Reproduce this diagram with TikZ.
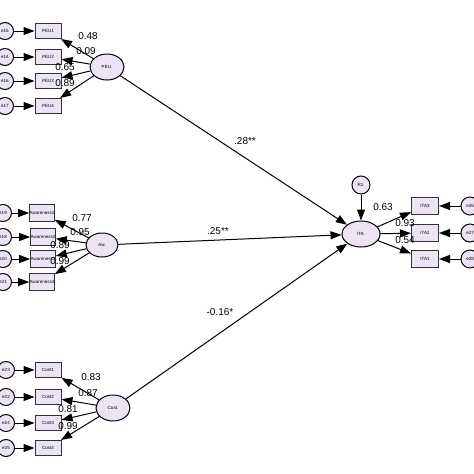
\documentclass[tikz,border=0pt]{standalone}
\usepackage{fontspec}
\setmainfont{Liberation Sans}
\usetikzlibrary{arrows.meta,positioning,calc,shapes.geometric}
\definecolor{lav}{RGB}{236,228,244}
\tikzset{
  lat/.style={ellipse, draw=black, line width=1pt, fill=lav, minimum width=#1, minimum height=26pt,
              inner sep=0pt, font=\fontsize{4.5}{5}\selectfont},
  lat/.default={34pt},
  ind/.style={rectangle, draw=black!80, line width=1pt, fill=lav, minimum width=#1, minimum height=15pt,
              inner sep=0pt, font=\fontsize{4.5}{5}\selectfont},
  ind/.default={26pt},
  err/.style={circle, draw=black, line width=1pt, fill=lav, minimum size=17pt, inner sep=0pt,
              font=\fontsize{4.5}{5}\selectfont},
  arr/.style={-{Triangle[length=11pt,width=8pt]}, line width=1pt, black},
  est/.style={font=\fontsize{10}{12}\selectfont, inner sep=0pt},
}
\begin{document}
\begin{tikzpicture}[x=1pt, y=-1pt]
\useasboundingbox (0,0) rectangle (474,474);
\clip (0,0) rectangle (474,474);
% PEU
\node[lat] (peu) at (107,67) {PEU.};
\foreach \i/\y/\e/\v/\lx/\ly in {1/31/15/0.48/88/36, 2/57/14/0.09/86/51, 3/81/16/0.65/65/67, 4/106/17/0.89/65/83} {
  \node[ind] (peu\i) at (48,\y) {PEU\i};
  \node[err] (e\e) at (5,\y) {e\e};
  \draw[arr] (e\e) -- (peu\i);
  \draw[arr] (peu) -- (peu\i);
  \node[est] (lp\i) at (\lx,\ly) {\v};
}
% awareness
\node[lat=32pt, minimum height=24pt] (aw) at (102,245) {Aw.};
\foreach \i/\x/\y/\e/\v/\lx/\ly in {1/42/213/19/0.77/82/218, 2/43/237/18/0.95/80/232, 3/43/259/20/0.89/60/245, 4/42/282/21/0.99/60/261} {
  \node[ind=22pt, minimum height=17pt] (aw\i) at (\x,\y) {Awareness\i};
  \node[err] (e\e) at (3,\y) {e\e};
  \draw[arr] (e\e) -- (aw\i);
  \draw[arr] (aw) -- (aw\i);
  \node[est] (la\i) at (\lx,\ly) {\v};
}
% cost
\node[lat] (cost) at (113,408) {Cost.};
\foreach \i/\y/\e/\v/\lx/\ly in {1/370/23/0.83/91/377, 2/397/22/0.87/88/393, 3/423/24/0.81/68/409, 4/448/25/0.99/68/426} {
  \node[ind] (cost\i) at (48,\y) {Cost\i};
  \node[err] (e\e) at (6,\y) {e\e};
  \draw[arr] (e\e) -- (cost\i);
  \draw[arr] (cost) -- (cost\i);
  \node[est] (lc\i) at (\lx,\ly) {\v};
}
% ITA
\node[lat=38pt] (ita) at (361,234) {ITA.};
\node[err, minimum size=18pt] (r1) at (361,185) {R1.};
\draw[arr] (r1) -- (ita);
\foreach \i/\y/\e/\v/\lx/\ly in {3/206/26/0.63/383/207, 2/233/27/0.93/405/223, 1/259/28/0.54/405/240} {
  \node[ind=27pt, minimum height=17pt] (ita\i) at (425,\y) {ITA\i};
  \node[err, minimum size=18pt] (e\e) at (470,\y) {e\e};
  \draw[arr] (e\e) -- (ita\i);
  \draw[arr] (ita) -- (ita\i);
  \node[est] (li\i) at (\lx,\ly) {\v};
}
% paths
\draw[arr] (peu) -- (ita);
\draw[arr] (aw) -- (ita);
\draw[arr] (cost) -- (ita);
\node[est] (b1) at (245,141) {.28**};
\node[est] (b2) at (218,231) {.25**};
\node[est] (b3) at (220,312) {-0.16*};
\end{tikzpicture}
\end{document}
